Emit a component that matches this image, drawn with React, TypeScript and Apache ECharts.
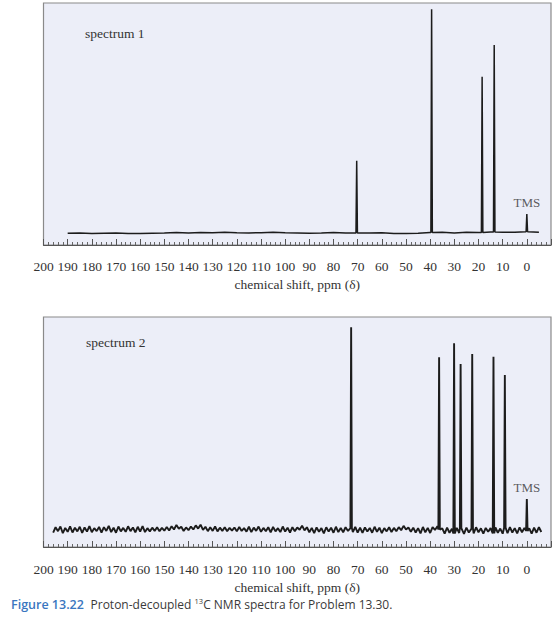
import React, { useEffect, useRef } from "react";
import * as echarts from "echarts";

// ---- spectrum 1 ----
const peakShifts1 = [70.4, 39.4, 18.5, 13.5, 0];
const peakHeights1 = [34.8, 97.4, 69.5, 82.6, 12.8];
const baseline1Start = 190; // ppm, sampled every 5 ppm
const baseline1Step = 5;
const baseline1 = [
  4.9, 5.0, 4.8, 4.9, 5.0, 4.8, 4.8, 4.9, 5.0, 5.2,
  5.0, 5.2, 5.1, 5.3, 5.1, 5.0, 5.1, 5.3, 5.1, 5.0,
  4.9, 5.0, 5.2, 5.0, 5.0, 5.0, 5.1, 4.8, 4.8, 4.9,
  5.2, 5.3, 5.0, 5.3, 5.2, 5.4, 5.3, 5.3, 5.5, 5.3,
];

// ---- spectrum 2 ----
const peakShifts2 = [72.7, 36.3, 30.1, 27.4, 22.6, 13.8, 9.1, 0];
const peakHeights2 = [95.5, 82.5, 88.6, 79.6, 83.9, 82.7, 74.8, 20.9];
const baseline2Start = 196; // ppm, sampled every 1 ppm
const baseline2Step = 1;
const baseline2 = [
  6.2, 8.6, 6.9, 8.9, 6.0, 8.3, 6.6, 9.0, 6.3, 8.4,
  6.8, 8.8, 6.1, 8.5, 6.7, 9.1, 6.4, 8.2, 6.9, 8.7,
  6.3, 8.6, 7.0, 9.2, 6.5, 8.4, 6.2, 8.9, 6.8, 8.3,
  6.6, 9.0, 6.9, 8.5, 6.4, 8.8, 6.7, 9.1, 6.5, 8.2,
  6.8, 8.4, 7.0, 8.6, 6.9, 8.3, 7.1, 8.7, 7.2, 9.0,
  7.6, 9.6, 7.9, 8.8, 7.0, 8.5, 7.3, 8.9, 7.6, 9.4,
  8.0, 9.7, 7.4, 8.8, 6.9, 8.6, 7.0, 8.9, 6.8, 8.4,
  7.0, 8.6, 6.9, 8.3, 7.1, 8.5, 6.8, 8.7, 7.0, 8.2,
  6.7, 8.8, 6.5, 8.4, 7.0, 8.9, 6.6, 8.3, 6.9, 8.6,
  6.4, 8.7, 6.8, 8.2, 6.5, 8.9, 6.7, 8.4, 6.3, 8.6,
  6.9, 8.5, 7.5, 9.3, 7.2, 8.6, 6.4, 8.3, 6.0, 8.5,
  6.6, 8.2, 5.9, 8.6, 6.7, 8.4, 6.2, 8.8, 6.5, 8.3,
  6.4, 8.6, 7.0, 8.2, 6.5, 8.7, 6.3, 8.4, 6.1, 8.5,
  6.7, 8.3, 6.2, 8.8, 6.6, 8.4, 6.0, 8.2, 6.8, 8.6,
  6.5, 8.3, 6.9, 8.6, 7.3, 9.2, 7.6, 8.5, 6.6, 8.4,
  6.3, 8.2, 5.9, 8.7, 6.4, 8.3, 6.1, 8.6, 7.4, 9.0,
  7.6, 8.1, 5.8, 8.4, 6.2, 7.9, 5.9, 8.3, 6.1, 8.2,
  5.7, 8.4, 6.3, 8.0, 5.9, 8.6, 6.4, 8.1, 5.8, 8.3,
  6.6, 8.2, 5.9, 8.5, 6.2, 8.0, 5.8, 8.4, 6.0, 8.6,
  6.3, 8.2, 5.9, 8.5, 6.4, 8.3, 7.0, 8.1, 5.8, 8.4,
  6.2, 8.6, 6.5,
];

const xMin = -10;
const xMax = 200;
const tmsShift = 0;

const SERIF = "'Liberation Serif', 'DejaVu Serif', serif";
const SANS = "'Open Sans', 'Noto Sans', sans-serif";
const INK = "#1c1c1c";
const TEXT = "#333";

// Baseline samples plus narrow triangular lines for each resonance.
function buildTrace(
  start: number,
  step: number,
  base: number[],
  shifts: number[],
  heights: number[],
  halfWidth: number
): number[][] {
  const samples = base.map((v, i) => [start - i * step, v]);
  const pts = samples.filter(
    ([x]) => !shifts.some((s) => Math.abs(x - s) <= halfWidth * 1.5)
  );
  shifts.forEach((s, k) => {
    let nearest = samples[0];
    samples.forEach((p) => {
      if (Math.abs(p[0] - s) < Math.abs(nearest[0] - s)) nearest = p;
    });
    const foot = nearest[1];
    pts.push([s + halfWidth, foot], [s, heights[k]], [s - halfWidth, foot]);
  });
  pts.sort((a, b) => b[0] - a[0]);
  return pts;
}

function xAxisFor(gridIndex: number, offset: number) {
  return {
    type: "value",
    gridIndex,
    min: xMin,
    max: xMax,
    interval: 10,
    inverse: true,
    offset,
    splitLine: { show: false },
    axisLine: { show: true, lineStyle: { color: "#555", width: 1 } },
    axisTick: { show: true, inside: true, length: 6, lineStyle: { color: "#555", width: 1 } },
    minorTick: { show: true, splitNumber: 5, length: 3, lineStyle: { color: "#666", width: 1 } },
    minorSplitLine: { show: false },
    axisLabel: {
      margin: 4,
      fontFamily: SERIF,
      fontSize: 13.5,
      color: TEXT,
      formatter: (v: number) => (v < 0 ? "" : String(v)),
    },
    name: "chemical shift, ppm (\u03b4)",
    nameLocation: "middle",
    nameGap: 22,
    nameTextStyle: { fontFamily: SERIF, fontSize: 13.5, color: TEXT },
  };
}

function yAxisFor(gridIndex: number) {
  return {
    type: "value",
    gridIndex,
    min: 0,
    max: 100,
    show: false,
  };
}

function tmsSeries(axis: number, height: number, dist: number) {
  return {
    type: "scatter",
    xAxisIndex: axis,
    yAxisIndex: axis,
    symbolSize: 1,
    itemStyle: { color: "rgba(0,0,0,0)" },
    silent: true,
    data: [[tmsShift, height]],
    label: {
      show: true,
      position: "top",
      distance: dist,
      formatter: "TMS",
      fontFamily: SERIF,
      fontSize: 13,
      color: TEXT,
    },
  };
}

export default function App() {
  const ref = useRef<HTMLDivElement>(null);

  useEffect(() => {
    if (!ref.current) return;
    const chart = echarts.init(ref.current, undefined, { renderer: "svg" });

    const trace1 = buildTrace(baseline1Start, baseline1Step, baseline1, peakShifts1, peakHeights1, 0.3);
    const trace2 = buildTrace(baseline2Start, baseline2Step, baseline2, peakShifts2, peakHeights2, 0.3);

    const gridStyle = {
      show: true,
      backgroundColor: "#eceef8",
      borderColor: "#8a8a8a",
      borderWidth: 1.2,
      left: 43.5,
      width: 507.5,
    };

    chart.setOption({
      animation: false,
      backgroundColor: "#ffffff",
      grid: [
        { ...gridStyle, top: 3, height: 242 },
        { ...gridStyle, top: 317, height: 230 },
      ],
      xAxis: [xAxisFor(0, 10), xAxisFor(1, 11)],
      yAxis: [yAxisFor(0), yAxisFor(1)],
      series: [
        {
          type: "line",
          xAxisIndex: 0,
          yAxisIndex: 0,
          showSymbol: false,
          silent: true,
          lineStyle: { color: INK, width: 1.5 },
          data: trace1,
        },
        {
          type: "line",
          xAxisIndex: 1,
          yAxisIndex: 1,
          showSymbol: false,
          silent: true,
          lineStyle: { color: INK, width: 1.9 },
          data: trace2,
        },
        tmsSeries(0, peakHeights1[peakHeights1.length - 1], 5),
        tmsSeries(1, peakHeights2[peakHeights2.length - 1], 4),
      ],
      graphic: [
        {
          type: "text",
          left: 85,
          top: 26,
          style: { text: "spectrum 1", fontFamily: SERIF, fontSize: 13.5, fill: TEXT },
        },
        {
          type: "text",
          left: 86,
          top: 335,
          style: { text: "spectrum 2", fontFamily: SERIF, fontSize: 13.5, fill: TEXT },
        },
        {
          type: "text",
          left: 11,
          top: 597,
          style: {
            text: "{fig|Figure 13.22}  {txt|Proton-decoupled }{sup|13}{txt|C NMR spectra for Problem 13.30.}",
            rich: {
              fig: { fontFamily: SANS, fontSize: 12.5, fontWeight: 600, fill: "#3a76c0" },
              txt: { fontFamily: SANS, fontSize: 12, fill: "#3a3a3a" },
              sup: { fontFamily: SANS, fontSize: 7.5, fill: "#3a3a3a", padding: [0, 0, 6, 0] },
            },
          },
        },
      ],
    });

    return () => chart.dispose();
  }, []);

  return (
    <div
      ref={ref}
      style={{ position: "fixed", left: 0, top: 0, width: 560, height: 633, background: "#fff" }}
    />
  );
}
